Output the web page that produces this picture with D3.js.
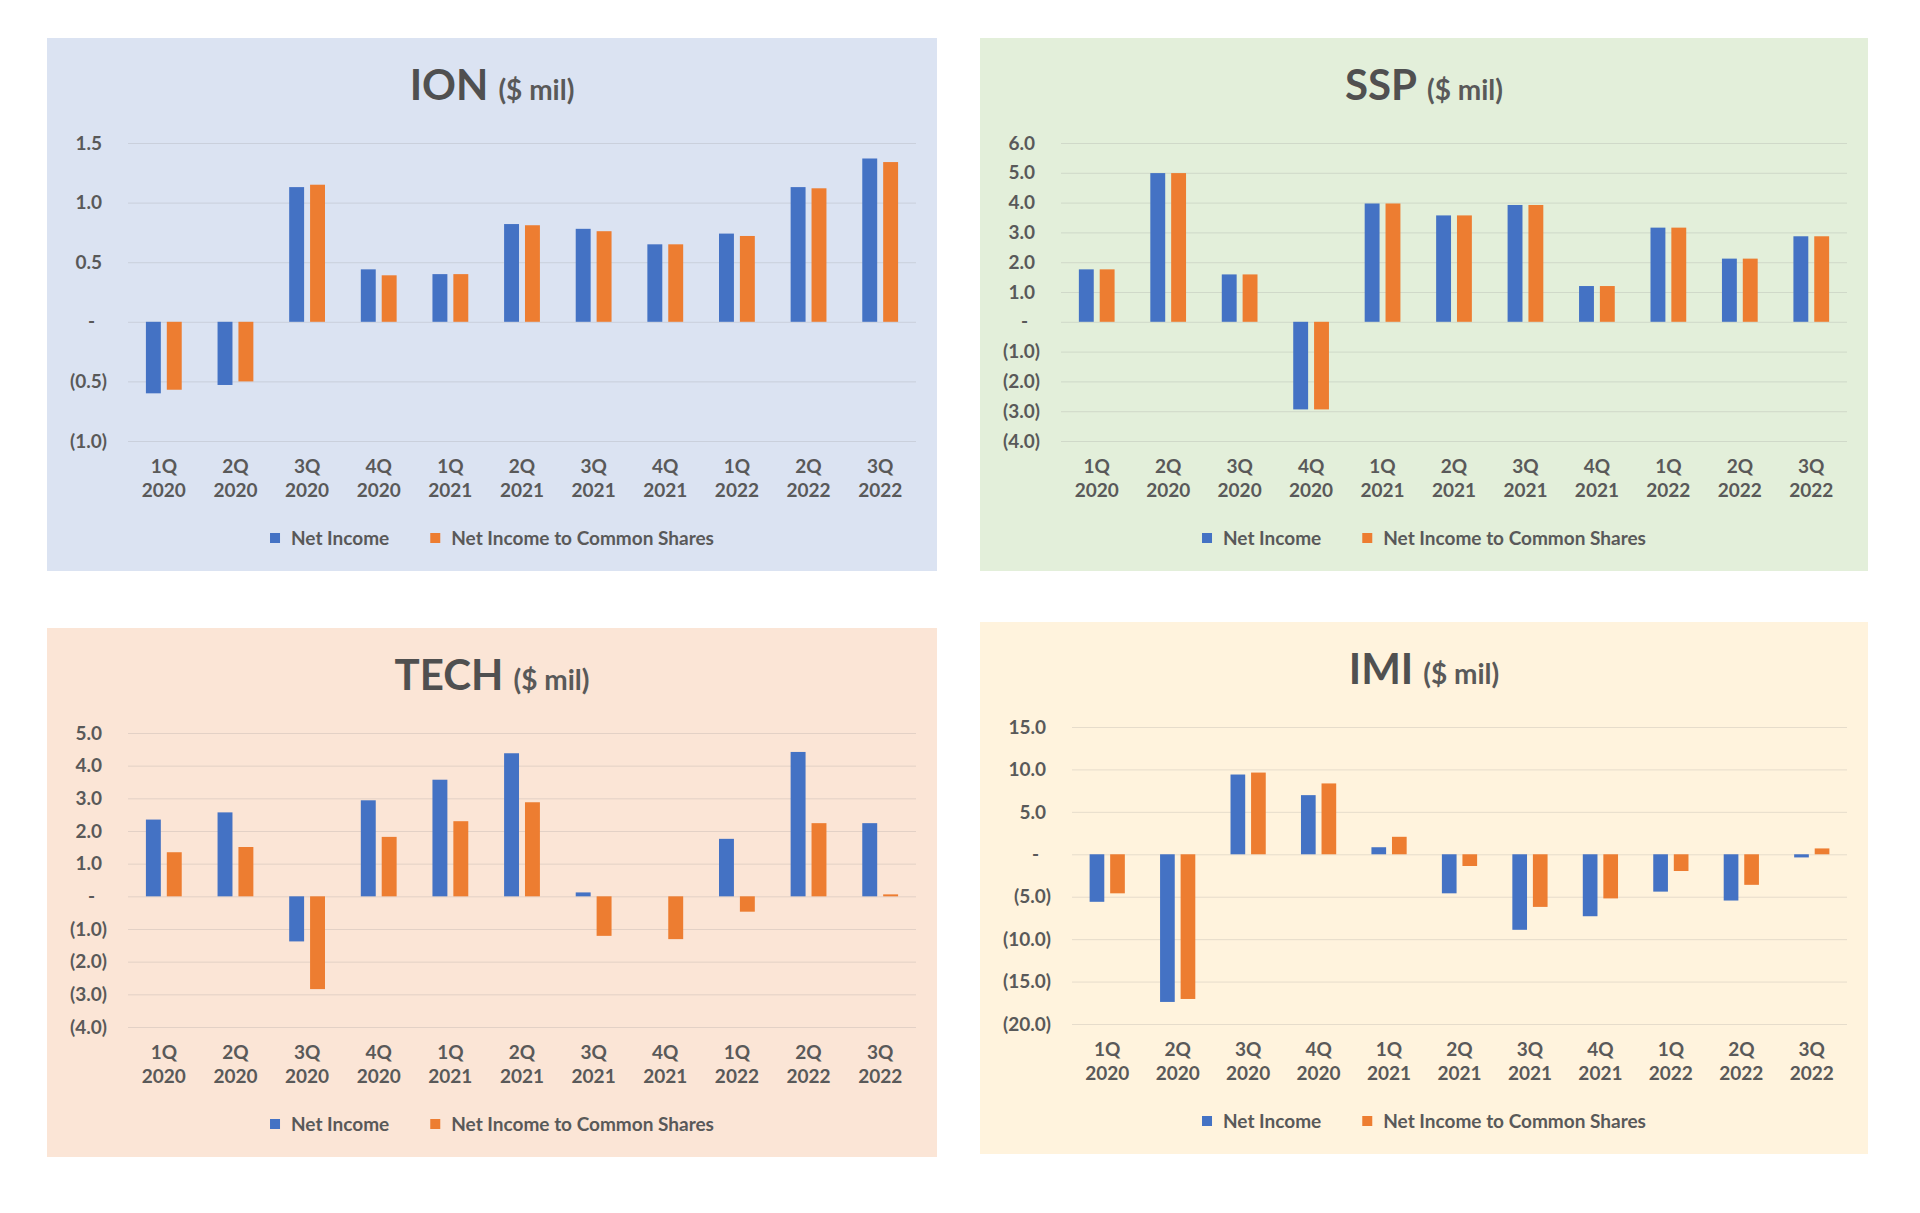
<!DOCTYPE html>
<meta charset="utf-8">
<head>
<title>Net Income by quarter</title>
<style>
  body { margin: 0; background: #fff; }
  svg text { font-family: Lato, "Open Sans", sans-serif; font-weight: bold; fill: #595959; }
  .grid line { stroke: #8c8c8c; stroke-opacity: 0.22; }
  .grid path { display: none; }
</style>
</head>
<body>
<svg width="1920" height="1213"></svg>

<script src="https://cdn.jsdelivr.net/npm/d3@7"></script>
<script>

// categories
var quarters = ["1Q 2020", "2Q 2020", "3Q 2020", "4Q 2020", "1Q 2021", "2Q 2021",
                "3Q 2021", "4Q 2021", "1Q 2022", "2Q 2022", "3Q 2022"];
var seriesNames = ["Net Income", "Net Income to Common Shares"];

// values, $ mil
var ionNetIncome = [-0.60, -0.53, 1.13, 0.44, 0.40, 0.82, 0.78, 0.65, 0.74, 1.13, 1.37];
var ionCommon    = [-0.57, -0.50, 1.15, 0.39, 0.40, 0.81, 0.76, 0.65, 0.72, 1.12, 1.34];

var sspNetIncome = [1.76, 4.99, 1.59, -2.94, 3.97, 3.57, 3.92, 1.20, 3.16, 2.12, 2.87];
var sspCommon    = [1.76, 4.99, 1.59, -2.94, 3.97, 3.57, 3.92, 1.20, 3.16, 2.12, 2.87];

var techNetIncome = [2.35, 2.57, -1.38, 2.94, 3.57, 4.38, 0.12, 0.00, 1.76, 4.42, 2.24];
var techCommon    = [1.35, 1.51, -2.84, 1.82, 2.30, 2.88, -1.21, -1.31, -0.47, 2.24, 0.06];

var imiNetIncome = [-5.6, -17.4, 9.4, 6.97, 0.83, -4.6, -8.9, -7.3, -4.4, -5.45, -0.37];
var imiCommon    = [-4.6, -17.05, 9.63, 8.35, 2.06, -1.38, -6.2, -5.2, -1.97, -3.6, 0.69];

// y ticks
var ionTicks  = [-1.0, -0.5, 0, 0.5, 1.0, 1.5];
var sspTicks  = [-4, -3, -2, -1, 0, 1, 2, 3, 4, 5, 6];
var techTicks = [-4, -3, -2, -1, 0, 1, 2, 3, 4, 5];
var imiTicks  = [-20, -15, -10, -5, 0, 5, 10, 15];

var colors = ["#4472c4", "#ed7d31"];

// panel layout
var panels = [
  { name: "ION",  bg: "#dbe3f2", x: 47,  y: 38,  w: 890, h: 533, left: 81, a: ionNetIncome,  b: ionCommon,  ticks: ionTicks },
  { name: "SSP",  bg: "#e3efda", x: 980, y: 38,  w: 888, h: 533, left: 81, a: sspNetIncome,  b: sspCommon,  ticks: sspTicks },
  { name: "TECH", bg: "#fbe5d6", x: 47,  y: 628, w: 890, h: 529, left: 81, a: techNetIncome, b: techCommon, ticks: techTicks },
  { name: "IMI",  bg: "#fff3dd", x: 980, y: 622, w: 888, h: 532, left: 92, a: imiNetIncome,  b: imiCommon,  ticks: imiTicks }
];

var svg = d3.select("svg");
var num = d3.format(".1f");

// accounting style labels: 1.5 / - / (0.5)
function fmt(v) {
  if (v === 0) return "-";
  return v < 0 ? "(" + num(-v) + ")" : num(v);
}

panels.forEach(function(p) {
  var g = svg.append("g").attr("transform", "translate(" + p.x + "," + p.y + ")");

  g.append("rect")
    .attr("width", p.w)
    .attr("height", p.h)
    .attr("fill", p.bg);

  // title
  var title = g.append("text")
    .attr("x", p.w / 2)
    .attr("y", 62)
    .attr("text-anchor", "middle");
  title.append("tspan").style("font-size", "42px").style("fill", "#505050").text(p.name);
  title.append("tspan").attr("dx", 10).style("font-size", "28px").text("($ mil)");

  var x0 = p.left, x1 = p.w - 21, top = 105, bottom = p.h - 130;

  var x = d3.scaleBand().domain(quarters).range([x0, x1]);
  var y = d3.scaleLinear().domain(d3.extent(p.ticks)).range([bottom, top]);

  // inner band: 15px bars with a 6px gap, centred in the category
  var pair = x.bandwidth() * 0.5;
  var inner = d3.scaleBand().domain(seriesNames)
    .range([(x.bandwidth() - pair) / 2, (x.bandwidth() + pair) / 2])
    .paddingInner(0.2857);

  // gridlines
  g.append("g")
    .attr("class", "grid")
    .attr("transform", "translate(" + x0 + ",0)")
    .call(d3.axisLeft(y).tickValues(p.ticks).tickSize(-(x1 - x0)).tickFormat(""));

  // y labels
  g.selectAll(".ylab")
    .data(p.ticks)
    .enter().append("text")
    .attr("class", "ylab")
    .attr("x", function(d) { return d === 0 ? x0 - 33 : (d < 0 ? x0 - 21 : x0 - 26); })
    .attr("y", function(d) { return y(d); })
    .attr("dy", "0.35em")
    .attr("text-anchor", "end")
    .style("font-size", "19px")
    .text(fmt);

  // bars
  var rows = quarters.map(function(q, i) { return { q: q, vals: [p.a[i], p.b[i]] }; });
  var grp = g.selectAll(".cat")
    .data(rows)
    .enter().append("g")
    .attr("class", "cat")
    .attr("transform", function(d) { return "translate(" + x(d.q) + ",0)"; });

  grp.selectAll("rect")
    .data(function(d) { return d.vals.map(function(v, k) { return { s: seriesNames[k], v: v, k: k }; }); })
    .enter().append("rect")
    .attr("x", function(d) { return inner(d.s); })
    .attr("width", inner.bandwidth())
    .attr("y", function(d) { return y(Math.max(0, d.v)); })
    .attr("height", function(d) { return Math.abs(y(d.v) - y(0)); })
    .attr("fill", function(d) { return colors[d.k]; });

  // category labels on two lines
  g.selectAll(".xlab")
    .data(quarters)
    .enter().append("text")
    .attr("class", "xlab")
    .attr("text-anchor", "middle")
    .style("font-size", "19px")
    .each(function(d) {
      var parts = d.split(" ");
      var t = d3.select(this);
      var cx = x(d) + x.bandwidth() / 2;
      t.append("tspan").attr("x", cx).attr("y", bottom + 32).text(parts[0]);
      t.append("tspan").attr("x", cx).attr("y", bottom + 56).text(parts[1]);
    });

  // legend, centred under the plot
  var leg = g.append("g");
  var cursor = 0;
  seriesNames.forEach(function(s, k) {
    leg.append("rect")
      .attr("x", cursor)
      .attr("y", -5)
      .attr("width", 10)
      .attr("height", 10)
      .attr("fill", colors[k]);
    var t = leg.append("text")
      .attr("x", cursor + 21)
      .attr("y", 7)
      .style("font-size", "19px")
      .text(s);
    cursor += 21 + t.node().getComputedTextLength() + 41;
  });
  var lw = cursor - 41;
  leg.attr("transform", "translate(" + (p.w / 2 - lw / 2) + "," + (p.h - 33) + ")");
});

</script>
</body>
</html>
